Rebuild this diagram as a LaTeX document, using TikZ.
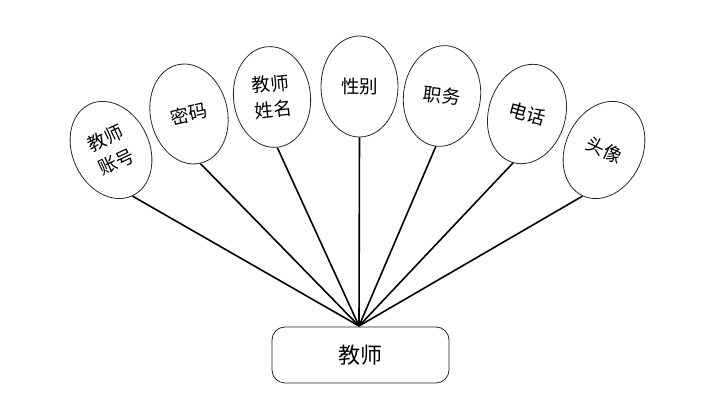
\documentclass[tikz,border=0pt]{standalone}
\usepackage{fontspec}
\newfontfamily\cjk{Noto Sans CJK SC}
\usetikzlibrary{shapes.geometric}
\begin{document}
\begin{tikzpicture}[x=1pt,y=1pt,
  attr/.style={draw=black!85, line width=0.8pt, ellipse, minimum width=77pt, minimum height=101pt, inner sep=0pt, align=center, font=\cjk\fontsize{18.5}{26}\selectfont},
  ent/.style={draw=black!85, line width=0.8pt, rounded corners=13pt, minimum width=177pt, minimum height=56pt, inner sep=0pt, font=\cjk\fontsize{22}{25}\selectfont},
  link/.style={line width=1.6pt, black}]
\useasboundingbox (0,0) rectangle (702,417);
\node[attr, rotate=25]  (e1) at (111,267)   {教师\\账号};
\node[attr, rotate=13]  (e2) at (189,303)   {密码};
\node[attr, rotate=6]   (e3) at (272,320)   {教师\\姓名};
\node[attr]             (e4) at (359.5,330.5) {性别};
\node[attr, rotate=-7]  (e5) at (442,321)   {职务};
\node[attr, rotate=-16] (e6) at (527,303)   {电话};
\node[attr, rotate=-25] (e7) at (604,267)   {头像};
\node[ent] (t) at (360.5,62) {教师};
\coordinate (hub) at (359,91);
\foreach \e in {e1,e2,e3,e4,e5,e6,e7}
  \draw[link] (\e.south) -- (hub);
\end{tikzpicture}
\end{document}
